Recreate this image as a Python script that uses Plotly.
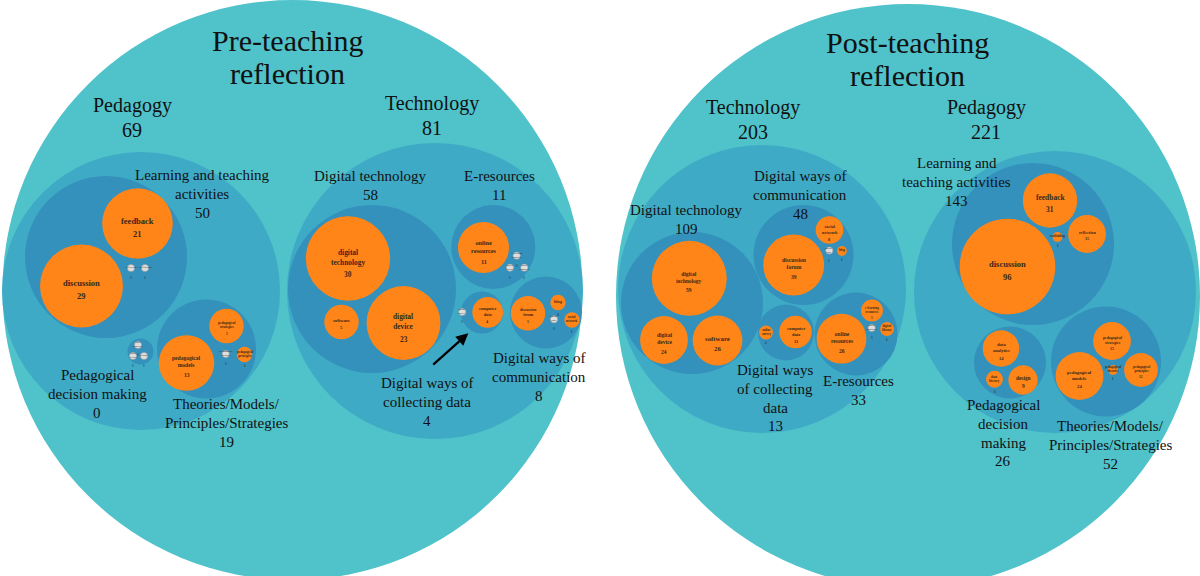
import math
import plotly.graph_objects as go

# ===================== DATA =====================
panel_titles = [["Pre-teaching", "reflection"], ["Post-teaching", "reflection"]]

# ---- Pre-teaching reflection ----
pre_group_names = ["Pedagogy", "Technology"]
pre_group_totals = [69, 81]

pre_cat_names = ["Learning and teaching activities", "Pedagogical decision making",
                 "Theories/Models/Principles/Strategies", "Digital technology",
                 "E-resources", "Digital ways of collecting data",
                 "Digital ways of communication"]
pre_cat_group = [0, 0, 0, 1, 1, 1, 1]
pre_cat_totals = [50, 0, 19, 58, 11, 4, 8]

pre_leaf_names = ["discussion", "feedback", "reflection", "scaffolding",
                  "data analytics", "data literacy", "design",
                  "pedagogical models", "pedagogical strategies",
                  "pedagogical principles", "pedagogical theories",
                  "digital technology", "digital device", "software",
                  "online resources", "e-learning resources", "digital library", "open resources",
                  "computer data", "online survey",
                  "discussion forum", "blog", "social network", "online chat"]
pre_leaf_cat = [0, 0, 0, 0, 1, 1, 1, 2, 2, 2, 2, 3, 3, 3, 4, 4, 4, 4, 5, 5, 6, 6, 6, 6]
pre_leaf_values = [29, 21, 0, 0, 0, 0, 0, 13, 5, 1, 0, 30, 23, 5, 11, 0, 0, 0, 4, 0, 5, 1, 1, 0]

# ---- Post-teaching reflection ----
post_group_names = ["Technology", "Pedagogy"]
post_group_totals = [203, 221]

post_cat_names = ["Digital technology", "Digital ways of communication",
                  "Digital ways of collecting data", "E-resources",
                  "Learning and teaching activities", "Pedagogical decision making",
                  "Theories/Models/Principles/Strategies"]
post_cat_group = [0, 0, 0, 0, 1, 1, 1]
post_cat_totals = [109, 48, 13, 33, 143, 26, 52]

post_leaf_names = ["digital technology", "digital device", "software",
                   "discussion forum", "social network", "blog", "online chat",
                   "online survey", "computer data",
                   "online resources", "e-learning resources", "digital library", "open resources",
                   "discussion", "feedback", "reflection", "scaffolding",
                   "data analytics", "design", "data literacy",
                   "pedagogical models", "pedagogical strategies",
                   "pedagogical principles", "pedagogical theories"]
post_leaf_cat = [0, 0, 0, 1, 1, 1, 1, 2, 2, 3, 3, 3, 3, 4, 4, 4, 4, 5, 5, 5, 6, 6, 6, 6]
post_leaf_values = [59, 24, 26, 39, 8, 1, 0, 2, 11, 26, 5, 2, 0, 96, 31, 15, 1, 14, 9, 3, 24, 15, 12, 1]

# ===================== LAYOUT (canvas units, 1200 x 576) =====================
W, H = 1200, 576
FONT = "Liberation Serif, Times New Roman, serif"
C_PANEL, C_GROUP, C_CAT = "#4fc2ca", "#3eaac6", "#3491bc"
C_LEAF, C_ZERO = "#ff8519", "#dedede"

panel_layout = [
    dict(cx=292.5, cy=290, r=290, k=7.7, multi_cap=7.4, title_xy=(287.5, 40)),
    dict(cx=908, cy=296, r=292, k=4.88, multi_cap=5.5, title_xy=(907, 42)),
]

pre_group_circles = [(141, 291, 139), (435, 291, 148)]
pre_group_label_xy = [(132, 105), (431.7, 103)]
pre_cat_circles = [(106, 257, 81), (140.5, 351.5, 13), (206.5, 349, 49.5), (372, 289, 84),
                   (493.3, 247, 42), (482, 312.5, 21), (546, 312.5, 36)]
pre_cat_label_xy = [(202, 175), (97, 375), (226, 404), (370, 176), (499, 176),
                    (426.7, 383), (539, 358)]
pre_cat_label_lines = [["Learning and teaching", "activities"], ["Pedagogical", "decision making"],
                       ["Theories/Models/", "Principles/Strategies"], ["Digital technology"],
                       ["E-resources"], ["Digital ways of", "collecting data"],
                       ["Digital ways of", "communication"]]
pre_leaf_xy = [(81.5, 286), (137.5, 223.5), (131, 268), (145, 268),
               (138, 345), (133, 356), (144, 356),
               (186.5, 363), (226.5, 326), (244.5, 354.5), (225.7, 354),
               (348, 258.5), (403.5, 323), (341.5, 322),
               (483.5, 247.5), (516.7, 255.7), (510, 267.7), (524.3, 267.7),
               (487.7, 312.3), (462.3, 312),
               (528, 313.3), (558, 302.5), (572, 320), (554, 319.3)]

post_group_circles = [(762, 289, 144), (1055, 292, 141)]
post_group_label_xy = [(753, 107), (986, 107)]
post_cat_circles = [(692, 303, 71), (803.5, 255, 50), (786, 332.5, 28), (856, 334, 41.5),
                    (1033, 244, 81), (1010, 362.5, 36), (1106, 361.5, 55)]
post_cat_label_xy = [(686.7, 210), (800, 176), (775, 370), (858.3, 381), (956.7, 163),
                     (1003, 405), (1110, 426)]
post_cat_label_lines = [["Digital technology"], ["Digital ways of", "communication"],
                        ["Digital ways", "of collecting", "data"], ["E-resources"],
                        ["Learning and", "teaching activities"], ["Pedagogical", "decision", "making"],
                        ["Theories/Models/", "Principles/Strategies"]]
post_leaf_xy = [(689.3, 278.3), (664, 340), (717.5, 340.5),
                (793.7, 265), (829.5, 230), (842, 251), (829.3, 250.5),
                (766, 332.5), (795.5, 332),
                (841.5, 338.7), (872, 310.5), (887, 329), (871.7, 328),
                (1007.5, 266.5), (1050, 200.5), (1087, 234), (1057.5, 237),
                (1001, 348.5), (1023, 380), (994.5, 379.3),
                (1079.5, 376), (1112, 341), (1141, 370), (1113, 370)]

arrow_tail = (431.7, 366)
arrow_head = (468.3, 333.3)

panels = [
    dict(lay=panel_layout[0], title=panel_titles[0],
         g_names=pre_group_names, g_tot=pre_group_totals, g_circ=pre_group_circles, g_lab=pre_group_label_xy,
         c_tot=pre_cat_totals, c_circ=pre_cat_circles, c_lab=pre_cat_label_xy, c_lines=pre_cat_label_lines,
         l_names=pre_leaf_names, l_vals=pre_leaf_values, l_xy=pre_leaf_xy),
    dict(lay=panel_layout[1], title=panel_titles[1],
         g_names=post_group_names, g_tot=post_group_totals, g_circ=post_group_circles, g_lab=post_group_label_xy,
         c_tot=post_cat_totals, c_circ=post_cat_circles, c_lab=post_cat_label_xy, c_lines=post_cat_label_lines,
         l_names=post_leaf_names, l_vals=post_leaf_values, l_xy=post_leaf_xy),
]

fig = go.Figure()
fig.add_trace(go.Scatter(x=[], y=[], mode="markers", showlegend=False, hoverinfo="skip"))


def circle(cx, cy, r, color, line=None):
    fig.add_shape(type="circle", xref="x", yref="y", x0=cx - r, x1=cx + r, y0=cy - r, y1=cy + r,
                  fillcolor=color, line=dict(width=0.6 if line else 0, color=line or color))


def lines_at(x, y0, lines, size, gap, color="#111111"):
    for i, t in enumerate(lines):
        fig.add_annotation(x=x, y=y0 + i * gap, xref="x", yref="y", text=t, showarrow=False,
                           xanchor="center", yanchor="middle",
                           font=dict(family=FONT, size=size, color=color))


def text_at(x, y, t, size, color):
    fig.add_annotation(x=x, y=y, xref="x", yref="y", text=t, showarrow=False,
                       xanchor="center", yanchor="middle", borderpad=0,
                       font=dict(family=FONT, size=size, color=color))


for p in panels:
    L = p["lay"]
    circle(L["cx"], L["cy"], L["r"], C_PANEL)
    for (cx, cy, r) in p["g_circ"]:
        circle(cx, cy, r, C_GROUP)
    for (cx, cy, r) in p["c_circ"]:
        circle(cx, cy, r, C_CAT)
    # leaves
    for name, v, (cx, cy) in zip(p["l_names"], p["l_vals"], p["l_xy"]):
        if v > 0:
            r = L["k"] * math.sqrt(v)
            circle(cx, cy, r, C_LEAF)
            words = name.split(" ")
            n = max(len(w) for w in words)
            cap = 8.5 if len(words) == 1 else L["multi_cap"]
            fs = max(3.2, min(cap, 2.2 * r / n))
            col = "#3a2818"
            if len(words) == 1:
                text_at(cx, cy - 0.35 * fs, "<b>%s</b>" % name, fs, col)
                vy = cy + 1.2 * fs
            else:
                text_at(cx, cy - 0.2 * fs, "<b>%s</b>" % "<br>".join(words), fs, col)
                vy = cy + 2.2 * fs
            if r < 10:
                vy = cy + r + 4
            text_at(cx, vy, "<b>%d</b>" % v, fs, col)
        else:
            circle(cx, cy, 3.6, C_ZERO, line="#9a9a9a")
            text_at(cx, cy - 0.5, "<br>".join(name.split(" ")), 2.8, "#2a2a2a")
            text_at(cx, cy + 10, "%d" % v, 3.2, "#2a2a2a")
    # titles and labels
    tx, ty = L["title_xy"]
    lines_at(tx, ty, p["title"], 30, 33)
    for name, tot, (x, y) in zip(p["g_names"], p["g_tot"], p["g_lab"]):
        lines_at(x, y, [name, str(tot)], 20, 24.5)
    for lines, tot, (x, y) in zip(p["c_lines"], p["c_tot"], p["c_lab"]):
        lines_at(x, y, lines + [str(tot)], 15, 18.8)

fig.add_annotation(x=arrow_head[0], y=arrow_head[1], ax=arrow_tail[0], ay=arrow_tail[1],
                   xref="x", yref="y", axref="x", ayref="y", text="", showarrow=True,
                   arrowhead=2, arrowsize=1.1, arrowwidth=2.2, arrowcolor="#000000",
                   standoff=0, startstandoff=0)

fig.update_layout(
    width=W, height=H, margin=dict(l=0, r=0, t=0, b=0),
    paper_bgcolor="white", plot_bgcolor="white", showlegend=False,
    xaxis=dict(range=[0, W], visible=False, fixedrange=True),
    yaxis=dict(range=[H, 0], visible=False, fixedrange=True),
)

fig.write_html("out.html", config={"displayModeBar": False},
               post_script="document.body.style.margin='0px';document.body.style.overflow='hidden';")
